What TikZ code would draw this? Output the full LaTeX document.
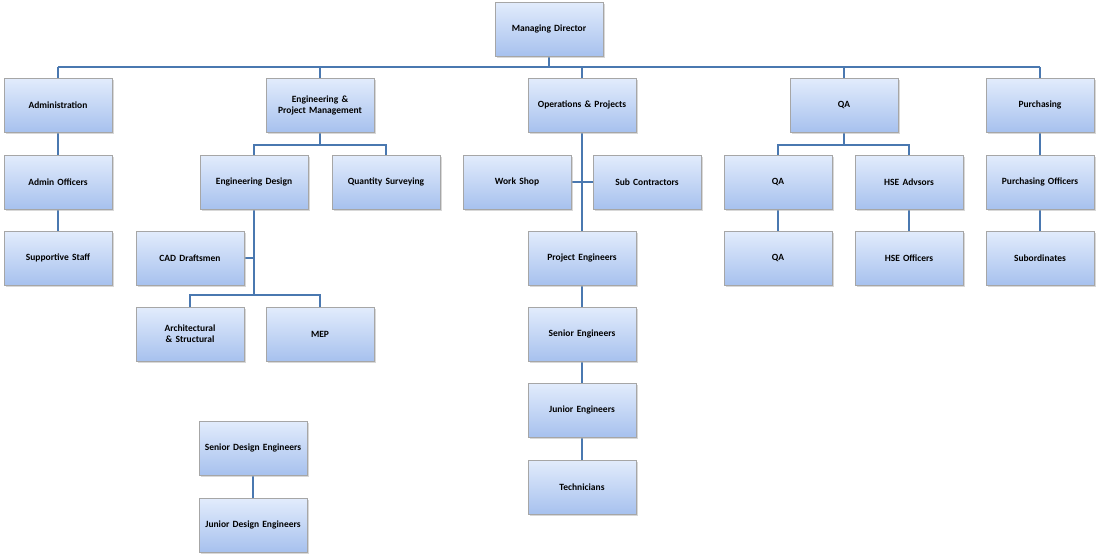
\documentclass[tikz,border=0pt]{standalone}
\usepackage{fontspec}
\setmainfont{Carlito}
\usetikzlibrary{shadows}
\definecolor{linkblue}{HTML}{4A78B0}
\definecolor{boxtop}{HTML}{E2ECFC}
\definecolor{boxbot}{HTML}{A7C1EE}
\tikzset{
  post/.style={draw=gray!70, line width=0.8pt, top color=boxtop, bottom color=boxbot,
    minimum width=108pt, minimum height=54pt, align=center, text width=100pt,
    font=\bfseries\fontsize{9.5}{11}\selectfont,
    drop shadow={shadow xshift=1.5pt, shadow yshift=-1.5pt, fill=gray!60}},
  link/.style={draw=linkblue, line width=2.6pt}
}
\begin{document}
\begin{tikzpicture}[x=1pt, y=-1pt]
\useasboundingbox (0,0) rectangle (1100,558);
%links
	\draw[link] (58,67) -- (1040,67);
	\foreach \x in {58, 320, 582, 844, 1040}{
		\draw[link] (\x,67) -- (\x,105);
	}
	\draw[link] (549,29) -- (549,67);
	\draw[link] (58,105) -- (58,258);
	\draw[link] (1040,105) -- (1040,258);
	\draw[link] (320,105) -- (320,145);
	\draw[link] (254,182) |- (386,145) -- (386,182);
	\draw[link] (844,105) -- (844,145);
	\draw[link] (778,258) |- (909,145) -- (909,258);
	\draw[link] (582,105) -- (582,487);
	\draw[link] (517,182) -- (647,182);
	\draw[link] (254,182) -- (254,295);
	\draw[link] (190,258) -- (254,258);
	\draw[link] (190,334) |- (320,295) -- (320,334);
	\draw[link] (253,448) -- (253,525);

%posts
	\foreach \xy/\name/\txt in {
		{(549,29)/md/Managing Director},
		{(58,105)/adm/Administration},
		{(320,105)/epm/Engineering \& Project Management},
		{(582,105)/ops/Operations \& Projects},
		{(844,105)/qa/QA/QC \& HSE},
		{(1040,105)/pur/Purchasing},
		{(58,182)/admoff/Admin Officers},
		{(254,182)/engdes/Engineering Design},
		{(386,182)/qs/Quantity Surveying},
		{(517,182)/ws/Work Shop},
		{(647,182)/sub/Sub Contractors},
		{(778,182)/qaeng/QA/QC Engineers},
		{(909,182)/hseadv/HSE Advsors},
		{(1040,182)/puroff/Purchasing Officers},
		{(58,258)/staff/Supportive Staff},
		{(190,258)/cad/CAD Draftsmen},
		{(582,258)/pem/Project Engineers/Managers},
		{(778,258)/qains/QA/QC Inspectors},
		{(909,258)/hseoff/HSE Officers},
		{(1040,258)/subord/Subordinates},
		{(190,334)/arch/Architectural \& Structural},
		{(320,334)/mep/MEP},
		{(582,334)/seng/Senior Engineers},
		{(582,410)/jeng/Junior Engineers},
		{(582,487)/tech/Technicians},
		{(253,448)/sde/Senior Design Engineers},
		{(253,525)/jde/Junior Design Engineers}} {
		\node[post] (\name) at \xy {\txt};
	}
\end{tikzpicture}
\end{document}
